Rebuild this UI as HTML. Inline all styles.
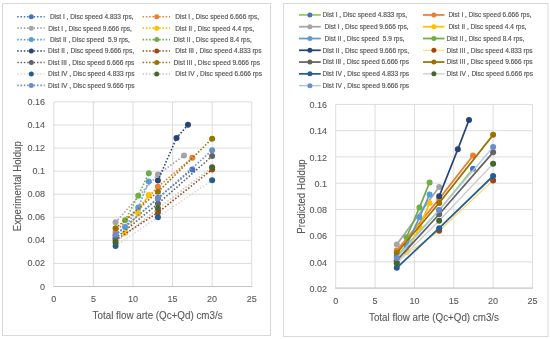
<!DOCTYPE html>
<html><head><meta charset="utf-8"><title>Holdup charts</title>
<style>.lg text{stroke:#595959;stroke-width:0.18px}.ax text{stroke:#595959;stroke-width:0.1px}html,body{margin:0;padding:0;background:#fff;width:550px;height:339px;overflow:hidden}svg{display:block}</style>
</head><body>
<svg width="550" height="339" viewBox="0 0 550 339">
<rect width="550" height="339" fill="#fff"/>
<g class="ax" font-family='"Liberation Sans", sans-serif' fill="#595959">
<rect x="2.5" y="3.5" width="268" height="332" fill="#fff" stroke="#d9d9d9" stroke-width="1"/>
<rect x="283.5" y="3.5" width="264.5" height="333" fill="#fff" stroke="#d9d9d9" stroke-width="1"/>
<line x1="53.85" y1="101.90" x2="251.70" y2="101.90" stroke="#d9d9d9" stroke-width="0.9"/>
<line x1="53.85" y1="124.97" x2="251.70" y2="124.97" stroke="#d9d9d9" stroke-width="0.9"/>
<line x1="53.85" y1="148.05" x2="251.70" y2="148.05" stroke="#d9d9d9" stroke-width="0.9"/>
<line x1="53.85" y1="171.12" x2="251.70" y2="171.12" stroke="#d9d9d9" stroke-width="0.9"/>
<line x1="53.85" y1="194.20" x2="251.70" y2="194.20" stroke="#d9d9d9" stroke-width="0.9"/>
<line x1="53.85" y1="217.28" x2="251.70" y2="217.28" stroke="#d9d9d9" stroke-width="0.9"/>
<line x1="53.85" y1="240.35" x2="251.70" y2="240.35" stroke="#d9d9d9" stroke-width="0.9"/>
<line x1="53.85" y1="263.43" x2="251.70" y2="263.43" stroke="#d9d9d9" stroke-width="0.9"/>
<line x1="53.85" y1="101.90" x2="53.85" y2="286.50" stroke="#d9d9d9" stroke-width="0.9"/>
<line x1="93.42" y1="101.90" x2="93.42" y2="286.50" stroke="#d9d9d9" stroke-width="0.9"/>
<line x1="132.99" y1="101.90" x2="132.99" y2="286.50" stroke="#d9d9d9" stroke-width="0.9"/>
<line x1="172.56" y1="101.90" x2="172.56" y2="286.50" stroke="#d9d9d9" stroke-width="0.9"/>
<line x1="212.13" y1="101.90" x2="212.13" y2="286.50" stroke="#d9d9d9" stroke-width="0.9"/>
<line x1="251.70" y1="101.90" x2="251.70" y2="286.50" stroke="#d9d9d9" stroke-width="0.9"/>
<line x1="53.40" y1="286.50" x2="252.15" y2="286.50" stroke="#c4c4c4" stroke-width="1.1"/>
<line x1="335.70" y1="104.44" x2="532.45" y2="104.44" stroke="#d9d9d9" stroke-width="0.9"/>
<line x1="335.70" y1="130.68" x2="532.45" y2="130.68" stroke="#d9d9d9" stroke-width="0.9"/>
<line x1="335.70" y1="156.93" x2="532.45" y2="156.93" stroke="#d9d9d9" stroke-width="0.9"/>
<line x1="335.70" y1="183.17" x2="532.45" y2="183.17" stroke="#d9d9d9" stroke-width="0.9"/>
<line x1="335.70" y1="209.42" x2="532.45" y2="209.42" stroke="#d9d9d9" stroke-width="0.9"/>
<line x1="335.70" y1="235.66" x2="532.45" y2="235.66" stroke="#d9d9d9" stroke-width="0.9"/>
<line x1="335.70" y1="261.90" x2="532.45" y2="261.90" stroke="#d9d9d9" stroke-width="0.9"/>
<line x1="335.70" y1="104.44" x2="335.70" y2="288.15" stroke="#d9d9d9" stroke-width="0.9"/>
<line x1="375.05" y1="104.44" x2="375.05" y2="288.15" stroke="#d9d9d9" stroke-width="0.9"/>
<line x1="414.40" y1="104.44" x2="414.40" y2="288.15" stroke="#d9d9d9" stroke-width="0.9"/>
<line x1="453.75" y1="104.44" x2="453.75" y2="288.15" stroke="#d9d9d9" stroke-width="0.9"/>
<line x1="493.10" y1="104.44" x2="493.10" y2="288.15" stroke="#d9d9d9" stroke-width="0.9"/>
<line x1="532.45" y1="104.44" x2="532.45" y2="288.15" stroke="#d9d9d9" stroke-width="0.9"/>
<line x1="335.25" y1="288.15" x2="532.90" y2="288.15" stroke="#c4c4c4" stroke-width="1.1"/>
<text x="45.00" y="104.90" font-size="9.0" text-anchor="end">0.16</text>
<text x="45.00" y="127.97" font-size="9.0" text-anchor="end">0.14</text>
<text x="45.00" y="151.05" font-size="9.0" text-anchor="end">0.12</text>
<text x="45.00" y="174.12" font-size="9.0" text-anchor="end">0.1</text>
<text x="45.00" y="197.20" font-size="9.0" text-anchor="end">0.08</text>
<text x="45.00" y="220.28" font-size="9.0" text-anchor="end">0.06</text>
<text x="45.00" y="243.35" font-size="9.0" text-anchor="end">0.04</text>
<text x="45.00" y="266.43" font-size="9.0" text-anchor="end">0.02</text>
<text x="45.00" y="289.50" font-size="9.0" text-anchor="end">0</text>
<text x="327.00" y="108.24" font-size="9.0" text-anchor="end">0.16</text>
<text x="327.00" y="134.48" font-size="9.0" text-anchor="end">0.14</text>
<text x="327.00" y="160.73" font-size="9.0" text-anchor="end">0.12</text>
<text x="327.00" y="186.97" font-size="9.0" text-anchor="end">0.1</text>
<text x="327.00" y="213.22" font-size="9.0" text-anchor="end">0.08</text>
<text x="327.00" y="239.46" font-size="9.0" text-anchor="end">0.06</text>
<text x="327.00" y="265.70" font-size="9.0" text-anchor="end">0.04</text>
<text x="327.00" y="291.95" font-size="9.0" text-anchor="end">0.02</text>
<text x="53.85" y="302.10" font-size="9.0" text-anchor="middle">0</text>
<text x="335.70" y="304.00" font-size="9.0" text-anchor="middle">0</text>
<text x="93.42" y="302.10" font-size="9.0" text-anchor="middle">5</text>
<text x="375.05" y="304.00" font-size="9.0" text-anchor="middle">5</text>
<text x="132.99" y="302.10" font-size="9.0" text-anchor="middle">10</text>
<text x="414.40" y="304.00" font-size="9.0" text-anchor="middle">10</text>
<text x="172.56" y="302.10" font-size="9.0" text-anchor="middle">15</text>
<text x="453.75" y="304.00" font-size="9.0" text-anchor="middle">15</text>
<text x="212.13" y="302.10" font-size="9.0" text-anchor="middle">20</text>
<text x="493.10" y="304.00" font-size="9.0" text-anchor="middle">20</text>
<text x="251.70" y="302.10" font-size="9.0" text-anchor="middle">25</text>
<text x="532.45" y="304.00" font-size="9.0" text-anchor="middle">25</text>
<text x="157.60" y="319.40" font-size="10.6" text-anchor="middle" textLength="130.00" lengthAdjust="spacingAndGlyphs">Total flow arte (Qc+Qd) cm3/s</text>
<text x="434.00" y="320.80" font-size="10.6" text-anchor="middle" textLength="130.00" lengthAdjust="spacingAndGlyphs">Total flow arte (Qc+Qd) cm3/s</text>
<text transform="translate(21.1,186.15) rotate(-90)" font-size="10.5" text-anchor="middle" textLength="90" lengthAdjust="spacingAndGlyphs">Experimental Holdup</text>
<text transform="translate(304.7,196.55) rotate(-90)" font-size="10.5" text-anchor="middle" textLength="74.5" lengthAdjust="spacingAndGlyphs">Predicted Holdup</text>
</g>
<polyline points="115.58,235.43 157.92,198.04 192.34,169.48" fill="none" stroke="#4472C4" stroke-width="1.6" stroke-dasharray="1.5 1.8"/>
<circle cx="115.58" cy="235.43" r="3.0" fill="#4472C4"/>
<circle cx="157.92" cy="198.04" r="3.0" fill="#4472C4"/>
<circle cx="192.34" cy="169.48" r="3.0" fill="#4472C4"/>
<polyline points="115.58,231.99 157.92,186.80 192.34,157.78" fill="none" stroke="#ED7D31" stroke-width="1.6" stroke-dasharray="1.5 1.8"/>
<circle cx="115.58" cy="231.99" r="3.0" fill="#ED7D31"/>
<circle cx="157.92" cy="186.80" r="3.0" fill="#ED7D31"/>
<circle cx="192.34" cy="157.78" r="3.0" fill="#ED7D31"/>
<polyline points="115.58,222.36 157.92,174.53 184.04,155.49" fill="none" stroke="#A5A5A5" stroke-width="1.6" stroke-dasharray="1.5 1.8"/>
<circle cx="115.58" cy="222.36" r="3.0" fill="#A5A5A5"/>
<circle cx="157.92" cy="174.53" r="3.0" fill="#A5A5A5"/>
<circle cx="184.04" cy="155.49" r="3.0" fill="#A5A5A5"/>
<polyline points="125.08,233.02 138.21,213.52 148.82,195.06" fill="none" stroke="#FFC000" stroke-width="1.6" stroke-dasharray="1.5 1.8"/>
<circle cx="125.08" cy="233.02" r="3.0" fill="#FFC000"/>
<circle cx="138.21" cy="213.52" r="3.0" fill="#FFC000"/>
<circle cx="148.82" cy="195.06" r="3.0" fill="#FFC000"/>
<polyline points="125.08,227.06 138.21,207.56 148.82,181.41" fill="none" stroke="#5B9BD5" stroke-width="1.6" stroke-dasharray="1.5 1.8"/>
<circle cx="125.08" cy="227.06" r="3.0" fill="#5B9BD5"/>
<circle cx="138.21" cy="207.56" r="3.0" fill="#5B9BD5"/>
<circle cx="148.82" cy="181.41" r="3.0" fill="#5B9BD5"/>
<polyline points="125.08,220.18 138.21,195.75 148.82,173.26" fill="none" stroke="#70AD47" stroke-width="1.6" stroke-dasharray="1.5 1.8"/>
<circle cx="125.08" cy="220.18" r="3.0" fill="#70AD47"/>
<circle cx="138.21" cy="195.75" r="3.0" fill="#70AD47"/>
<circle cx="148.82" cy="173.26" r="3.0" fill="#70AD47"/>
<polyline points="157.92,180.61 176.52,137.94 187.99,124.86" fill="none" stroke="#264478" stroke-width="1.6" stroke-dasharray="1.5 1.8"/>
<circle cx="157.92" cy="180.61" r="3.0" fill="#264478"/>
<circle cx="176.52" cy="137.94" r="3.0" fill="#264478"/>
<circle cx="187.99" cy="124.86" r="3.0" fill="#264478"/>
<polyline points="115.58,240.02 157.92,212.49 212.13,169.48" fill="none" stroke="#9E480E" stroke-width="1.6" stroke-dasharray="1.5 1.8"/>
<circle cx="115.58" cy="240.02" r="3.0" fill="#9E480E"/>
<circle cx="157.92" cy="212.49" r="3.0" fill="#9E480E"/>
<circle cx="212.13" cy="169.48" r="3.0" fill="#9E480E"/>
<polyline points="115.58,238.30 157.92,203.77 212.13,156.06" fill="none" stroke="#636363" stroke-width="1.6" stroke-dasharray="1.5 1.8"/>
<circle cx="115.58" cy="238.30" r="3.0" fill="#636363"/>
<circle cx="157.92" cy="203.77" r="3.0" fill="#636363"/>
<circle cx="212.13" cy="156.06" r="3.0" fill="#636363"/>
<polyline points="115.58,228.32 157.92,191.85 212.13,138.63" fill="none" stroke="#997300" stroke-width="1.6" stroke-dasharray="1.5 1.8"/>
<circle cx="115.58" cy="228.32" r="3.0" fill="#997300"/>
<circle cx="157.92" cy="191.85" r="3.0" fill="#997300"/>
<circle cx="212.13" cy="138.63" r="3.0" fill="#997300"/>
<polyline points="115.58,245.98 157.92,217.19 212.13,180.15" fill="none" stroke="#D9D9D9" stroke-width="1.6" stroke-dasharray="1.5 1.8"/>
<circle cx="115.58" cy="245.98" r="3.0" fill="#255E91"/>
<circle cx="157.92" cy="217.19" r="3.0" fill="#255E91"/>
<circle cx="212.13" cy="180.15" r="3.0" fill="#255E91"/>
<polyline points="115.58,242.43 157.92,208.59 212.13,167.30" fill="none" stroke="#C4C4C4" stroke-width="1.6" stroke-dasharray="1.5 1.8"/>
<circle cx="115.58" cy="242.43" r="3.0" fill="#43682B"/>
<circle cx="157.92" cy="208.59" r="3.0" fill="#43682B"/>
<circle cx="212.13" cy="167.30" r="3.0" fill="#43682B"/>
<polyline points="115.58,234.74 157.92,198.50 212.13,150.32" fill="none" stroke="#698ED0" stroke-width="1.6" stroke-dasharray="1.5 1.8"/>
<circle cx="115.58" cy="234.74" r="3.0" fill="#698ED0"/>
<circle cx="157.92" cy="198.50" r="3.0" fill="#698ED0"/>
<circle cx="212.13" cy="150.32" r="3.0" fill="#698ED0"/>
<polyline points="396.77,255.95 439.19,210.23 473.03,168.81" fill="none" stroke="#92D050" stroke-width="1.75"/>
<circle cx="396.77" cy="255.95" r="3.0" fill="#4472C4"/>
<circle cx="439.19" cy="210.23" r="3.0" fill="#4472C4"/>
<circle cx="473.03" cy="168.81" r="3.0" fill="#4472C4"/>
<polyline points="396.77,250.60 439.19,198.86 473.03,155.48" fill="none" stroke="#ED7D31" stroke-width="1.75"/>
<circle cx="396.77" cy="250.60" r="3.0" fill="#ED7D31"/>
<circle cx="439.19" cy="198.86" r="3.0" fill="#ED7D31"/>
<circle cx="473.03" cy="155.48" r="3.0" fill="#ED7D31"/>
<polyline points="396.77,244.46 439.19,187.10" fill="none" stroke="#A5A5A5" stroke-width="1.75"/>
<circle cx="396.77" cy="244.46" r="3.0" fill="#A5A5A5"/>
<circle cx="439.19" cy="187.10" r="3.0" fill="#A5A5A5"/>
<polyline points="406.53,252.03 419.44,227.21 429.59,202.91" fill="none" stroke="#FFC000" stroke-width="1.75"/>
<circle cx="406.53" cy="252.03" r="3.0" fill="#FFC000"/>
<circle cx="419.44" cy="227.21" r="3.0" fill="#FFC000"/>
<circle cx="429.59" cy="202.91" r="3.0" fill="#FFC000"/>
<polyline points="406.53,245.50 419.44,217.28 429.59,194.55" fill="none" stroke="#5B9BD5" stroke-width="1.75"/>
<circle cx="406.53" cy="245.50" r="3.0" fill="#5B9BD5"/>
<circle cx="419.44" cy="217.28" r="3.0" fill="#5B9BD5"/>
<circle cx="429.59" cy="194.55" r="3.0" fill="#5B9BD5"/>
<polyline points="406.53,237.27 419.44,207.61 429.59,182.53" fill="none" stroke="#70AD47" stroke-width="1.75"/>
<circle cx="406.53" cy="237.27" r="3.0" fill="#70AD47"/>
<circle cx="419.44" cy="207.61" r="3.0" fill="#70AD47"/>
<circle cx="429.59" cy="182.53" r="3.0" fill="#70AD47"/>
<polyline points="439.19,196.25 457.84,149.21 469.02,119.95" fill="none" stroke="#264478" stroke-width="1.75"/>
<circle cx="439.19" cy="196.25" r="3.0" fill="#264478"/>
<circle cx="457.84" cy="149.21" r="3.0" fill="#264478"/>
<circle cx="469.02" cy="119.95" r="3.0" fill="#264478"/>
<polyline points="396.77,261.18 439.19,230.74 493.10,180.44" fill="none" stroke="#FFD966" stroke-width="1.1"/>
<circle cx="396.77" cy="261.18" r="3.0" fill="#9E480E"/>
<circle cx="439.19" cy="230.74" r="3.0" fill="#9E480E"/>
<circle cx="493.10" cy="180.44" r="3.0" fill="#9E480E"/>
<polyline points="396.77,260.53 439.19,214.28 493.10,152.35" fill="none" stroke="#636363" stroke-width="1.75"/>
<circle cx="396.77" cy="260.53" r="3.0" fill="#636363"/>
<circle cx="439.19" cy="214.28" r="3.0" fill="#636363"/>
<circle cx="493.10" cy="152.35" r="3.0" fill="#636363"/>
<polyline points="396.77,252.95 439.19,203.04 493.10,134.84" fill="none" stroke="#997300" stroke-width="1.75"/>
<circle cx="396.77" cy="252.95" r="3.0" fill="#997300"/>
<circle cx="439.19" cy="203.04" r="3.0" fill="#997300"/>
<circle cx="493.10" cy="134.84" r="3.0" fill="#997300"/>
<polyline points="396.77,267.84 439.19,228.13 493.10,176.00" fill="none" stroke="#255E91" stroke-width="1.75"/>
<circle cx="396.77" cy="267.84" r="3.0" fill="#255E91"/>
<circle cx="439.19" cy="228.13" r="3.0" fill="#255E91"/>
<circle cx="493.10" cy="176.00" r="3.0" fill="#255E91"/>
<polyline points="396.77,263.14 439.19,220.68 493.10,163.72" fill="none" stroke="#D0CECE" stroke-width="1.4"/>
<circle cx="396.77" cy="263.14" r="3.0" fill="#43682B"/>
<circle cx="439.19" cy="220.68" r="3.0" fill="#43682B"/>
<circle cx="493.10" cy="163.72" r="3.0" fill="#43682B"/>
<polyline points="396.77,257.91 439.19,209.97 493.10,147.12" fill="none" stroke="#B4C7E7" stroke-width="1.5"/>
<circle cx="396.77" cy="257.91" r="3.0" fill="#698ED0"/>
<circle cx="439.19" cy="209.97" r="3.0" fill="#698ED0"/>
<circle cx="493.10" cy="147.12" r="3.0" fill="#698ED0"/>
<g class="lg" font-family='"Liberation Sans", sans-serif' fill="#595959">
<line x1="17.2" y1="16.70" x2="44.7" y2="16.70" stroke="#4472C4" stroke-width="1.6" stroke-dasharray="1.5 1.8"/>
<circle cx="31.3" cy="16.70" r="2.5" fill="#4472C4"/>
<text x="49.90" y="19.10" font-size="6.6" text-anchor="start" textLength="83.70" lengthAdjust="spacingAndGlyphs">Dist I , Disc speed 4.833 rps,</text>
<line x1="299.0" y1="14.95" x2="320.8" y2="14.95" stroke="#92D050" stroke-width="1.75"/>
<circle cx="309.9" cy="14.95" r="2.5" fill="#4472C4"/>
<text x="322.40" y="17.35" font-size="6.6" text-anchor="start" textLength="84.80" lengthAdjust="spacingAndGlyphs">Dist I , Disc speed 4.833 rps,</text>
<line x1="142.6" y1="16.70" x2="170.0" y2="16.70" stroke="#ED7D31" stroke-width="1.6" stroke-dasharray="1.5 1.8"/>
<circle cx="156.7" cy="16.70" r="2.5" fill="#ED7D31"/>
<text x="175.20" y="19.10" font-size="6.6" text-anchor="start" textLength="83.90" lengthAdjust="spacingAndGlyphs">Dist I , Disc speed 6.666 rps,</text>
<line x1="423.0" y1="14.95" x2="444.5" y2="14.95" stroke="#ED7D31" stroke-width="1.75"/>
<circle cx="433.9" cy="14.95" r="2.5" fill="#ED7D31"/>
<text x="448.40" y="17.35" font-size="6.6" text-anchor="start" textLength="83.10" lengthAdjust="spacingAndGlyphs">Dist I , Disc speed 6.666 rps,</text>
<line x1="17.2" y1="28.15" x2="44.7" y2="28.15" stroke="#A5A5A5" stroke-width="1.6" stroke-dasharray="1.5 1.8"/>
<circle cx="31.3" cy="28.15" r="2.5" fill="#A5A5A5"/>
<text x="48.20" y="30.55" font-size="6.6" text-anchor="start" textLength="83.70" lengthAdjust="spacingAndGlyphs">Dist I , Disc speed 9.666 rps,</text>
<line x1="299.0" y1="26.73" x2="320.8" y2="26.73" stroke="#A5A5A5" stroke-width="1.75"/>
<circle cx="309.9" cy="26.73" r="2.5" fill="#A5A5A5"/>
<text x="324.60" y="29.13" font-size="6.6" text-anchor="start" textLength="84.00" lengthAdjust="spacingAndGlyphs">Dist I , Disc speed 9.666 rps,</text>
<line x1="142.6" y1="28.15" x2="170.0" y2="28.15" stroke="#FFC000" stroke-width="1.6" stroke-dasharray="1.5 1.8"/>
<circle cx="156.7" cy="28.15" r="2.5" fill="#FFC000"/>
<text x="175.20" y="30.55" font-size="6.6" text-anchor="start" textLength="78.90" lengthAdjust="spacingAndGlyphs">Dist II , Disc speed 4.4 rps,</text>
<line x1="423.0" y1="26.73" x2="444.5" y2="26.73" stroke="#FFC000" stroke-width="1.75"/>
<circle cx="433.9" cy="26.73" r="2.5" fill="#FFC000"/>
<text x="448.40" y="29.13" font-size="6.6" text-anchor="start" textLength="78.20" lengthAdjust="spacingAndGlyphs">Dist II , Disc speed 4.4 rps,</text>
<line x1="17.2" y1="39.60" x2="44.7" y2="39.60" stroke="#5B9BD5" stroke-width="1.6" stroke-dasharray="1.5 1.8"/>
<circle cx="31.3" cy="39.60" r="2.5" fill="#5B9BD5"/>
<text x="49.90" y="42.00" font-size="6.6" text-anchor="start" textLength="80.00" lengthAdjust="spacingAndGlyphs">Dist II , Disc speed&#160; 5.9 rps,</text>
<line x1="299.0" y1="38.51" x2="320.8" y2="38.51" stroke="#5B9BD5" stroke-width="1.75"/>
<circle cx="309.9" cy="38.51" r="2.5" fill="#5B9BD5"/>
<text x="324.60" y="40.91" font-size="6.6" text-anchor="start" textLength="80.00" lengthAdjust="spacingAndGlyphs">Dist II , Disc speed&#160; 5.9 rps,</text>
<line x1="142.6" y1="39.60" x2="170.0" y2="39.60" stroke="#70AD47" stroke-width="1.6" stroke-dasharray="1.5 1.8"/>
<circle cx="156.7" cy="39.60" r="2.5" fill="#70AD47"/>
<text x="173.60" y="42.00" font-size="6.6" text-anchor="start" textLength="78.20" lengthAdjust="spacingAndGlyphs">Dist II , Disc speed 8.4 rps,</text>
<line x1="423.0" y1="38.51" x2="444.5" y2="38.51" stroke="#70AD47" stroke-width="1.75"/>
<circle cx="433.9" cy="38.51" r="2.5" fill="#70AD47"/>
<text x="446.60" y="40.91" font-size="6.6" text-anchor="start" textLength="77.80" lengthAdjust="spacingAndGlyphs">Dist II , Disc speed 8.4 rps,</text>
<line x1="17.2" y1="51.05" x2="44.7" y2="51.05" stroke="#264478" stroke-width="1.6" stroke-dasharray="1.5 1.8"/>
<circle cx="31.3" cy="51.05" r="2.5" fill="#264478"/>
<text x="48.10" y="53.45" font-size="6.6" text-anchor="start" textLength="86.00" lengthAdjust="spacingAndGlyphs">Dist II , Disc speed 9.666 rps,</text>
<line x1="299.0" y1="50.29" x2="320.8" y2="50.29" stroke="#264478" stroke-width="1.75"/>
<circle cx="309.9" cy="50.29" r="2.5" fill="#264478"/>
<text x="322.40" y="52.69" font-size="6.6" text-anchor="start" textLength="86.70" lengthAdjust="spacingAndGlyphs">Dist II , Disc speed 9.666 rps,</text>
<line x1="142.6" y1="51.05" x2="170.0" y2="51.05" stroke="#9E480E" stroke-width="1.6" stroke-dasharray="1.5 1.8"/>
<circle cx="156.7" cy="51.05" r="2.5" fill="#9E480E"/>
<text x="175.20" y="53.45" font-size="6.6" text-anchor="start" textLength="86.40" lengthAdjust="spacingAndGlyphs">Dist III , Disc speed 4.833 rps</text>
<line x1="423.0" y1="50.29" x2="444.5" y2="50.29" stroke="#FFD966" stroke-width="1.1"/>
<circle cx="433.9" cy="50.29" r="2.5" fill="#9E480E"/>
<text x="446.60" y="52.69" font-size="6.6" text-anchor="start" textLength="86.00" lengthAdjust="spacingAndGlyphs">Dist III , Disc speed 4.833 rps</text>
<line x1="17.2" y1="62.50" x2="44.7" y2="62.50" stroke="#636363" stroke-width="1.6" stroke-dasharray="1.5 1.8"/>
<circle cx="31.3" cy="62.50" r="2.5" fill="#636363"/>
<text x="48.10" y="64.90" font-size="6.6" text-anchor="start" textLength="86.30" lengthAdjust="spacingAndGlyphs">Dist III , Disc speed 6.666 rps</text>
<line x1="299.0" y1="62.07" x2="320.8" y2="62.07" stroke="#636363" stroke-width="1.75"/>
<circle cx="309.9" cy="62.07" r="2.5" fill="#636363"/>
<text x="322.40" y="64.47" font-size="6.6" text-anchor="start" textLength="86.70" lengthAdjust="spacingAndGlyphs">Dist III , Disc speed 6.666 rps</text>
<line x1="142.6" y1="62.50" x2="170.0" y2="62.50" stroke="#997300" stroke-width="1.6" stroke-dasharray="1.5 1.8"/>
<circle cx="156.7" cy="62.50" r="2.5" fill="#997300"/>
<text x="173.60" y="64.90" font-size="6.6" text-anchor="start" textLength="86.40" lengthAdjust="spacingAndGlyphs">Dist III , Disc speed 9.666 rps</text>
<line x1="423.0" y1="62.07" x2="444.5" y2="62.07" stroke="#997300" stroke-width="1.75"/>
<circle cx="433.9" cy="62.07" r="2.5" fill="#997300"/>
<text x="446.60" y="64.47" font-size="6.6" text-anchor="start" textLength="86.00" lengthAdjust="spacingAndGlyphs">Dist III , Disc speed 9.666 rps</text>
<line x1="17.2" y1="73.95" x2="44.7" y2="73.95" stroke="#D9D9D9" stroke-width="1.6" stroke-dasharray="1.5 1.8"/>
<circle cx="31.3" cy="73.95" r="2.5" fill="#255E91"/>
<text x="48.10" y="76.35" font-size="6.6" text-anchor="start" textLength="86.50" lengthAdjust="spacingAndGlyphs">Dist IV , Disc speed 4.833 rps</text>
<line x1="299.0" y1="73.85" x2="320.8" y2="73.85" stroke="#255E91" stroke-width="1.75"/>
<circle cx="309.9" cy="73.85" r="2.5" fill="#255E91"/>
<text x="322.40" y="76.25" font-size="6.6" text-anchor="start" textLength="86.70" lengthAdjust="spacingAndGlyphs">Dist IV , Disc speed 4.833 rps</text>
<line x1="142.6" y1="73.95" x2="170.0" y2="73.95" stroke="#C4C4C4" stroke-width="1.6" stroke-dasharray="1.5 1.8"/>
<circle cx="156.7" cy="73.95" r="2.5" fill="#43682B"/>
<text x="175.20" y="76.35" font-size="6.6" text-anchor="start" textLength="86.80" lengthAdjust="spacingAndGlyphs">Dist IV , Disc speed 6.666 rps</text>
<line x1="423.0" y1="73.85" x2="444.5" y2="73.85" stroke="#D0CECE" stroke-width="1.4"/>
<circle cx="433.9" cy="73.85" r="2.5" fill="#43682B"/>
<text x="446.60" y="76.25" font-size="6.6" text-anchor="start" textLength="86.40" lengthAdjust="spacingAndGlyphs">Dist IV , Disc speed 6.666 rps</text>
<line x1="17.2" y1="85.40" x2="44.7" y2="85.40" stroke="#698ED0" stroke-width="1.6" stroke-dasharray="1.5 1.8"/>
<circle cx="31.3" cy="85.40" r="2.5" fill="#698ED0"/>
<text x="48.10" y="87.80" font-size="6.6" text-anchor="start" textLength="86.50" lengthAdjust="spacingAndGlyphs">Dist IV , Disc speed 9.666 rps</text>
<line x1="299.0" y1="85.63" x2="320.8" y2="85.63" stroke="#B4C7E7" stroke-width="1.5"/>
<circle cx="309.9" cy="85.63" r="2.5" fill="#698ED0"/>
<text x="322.40" y="88.03" font-size="6.6" text-anchor="start" textLength="86.70" lengthAdjust="spacingAndGlyphs">Dist IV , Disc speed 9.666 rps</text>
</g>
</svg>
</body></html>
